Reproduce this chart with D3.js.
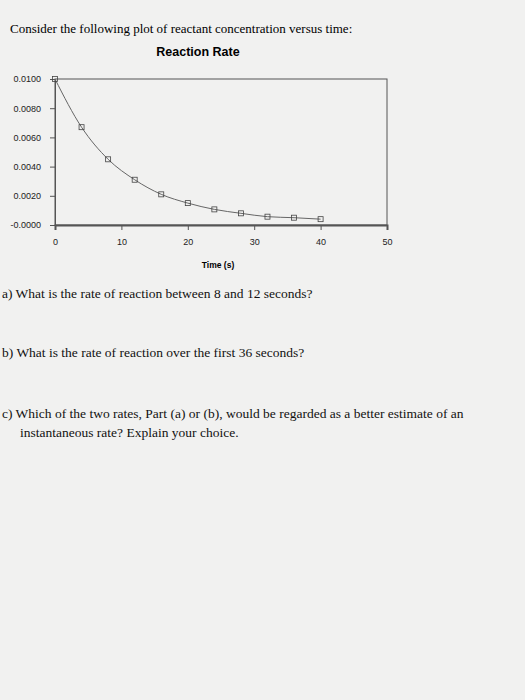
<!DOCTYPE html>
<html><head><meta charset="utf-8">
<script src="https://cdn.jsdelivr.net/npm/d3@7"></script>
<style>body{margin:0;background:#f1f1f0}</style></head>
<body><svg></svg>
<script>
const times = [0, 4, 8, 12, 16, 20, 24, 28, 32, 36, 40];
const conc = [0.0100, 0.0067, 0.0045, 0.0031, 0.0021, 0.0015, 0.00107, 0.0008, 0.00057, 0.0005, 0.0004];
const yTicks = [0, 0.002, 0.004, 0.006, 0.008, 0.01];
const xTicks = [0, 10, 20, 30, 40, 50];

const width = 525, height = 700;
const svg = d3.select('svg').attr('width', width).attr('height', height);

const margin = {top: 79, right: 138, bottom: 475, left: 55};
const x = d3.scaleLinear().domain([0, 50]).range([margin.left, width - margin.right]);
const y = d3.scaleLinear().domain([0, 0.01]).range([height - margin.bottom, margin.top]);

const serif = 'Liberation Serif, Times New Roman, serif';
const sans = 'Liberation Sans, Arial, sans-serif';

svg.append('text').attr('x', 10).attr('y', 33).attr('font-family', serif).attr('font-size', 13)
  .text('Consider the following plot of reactant concentration versus time:');
svg.append('text').attr('x', 198).attr('y', 56).attr('text-anchor', 'middle')
  .attr('font-family', sans).attr('font-size', 12.5).attr('font-weight', 'bold').text('Reaction Rate');

svg.append('rect').attr('x', x(0)).attr('y', y(0.01)).attr('width', x(50) - x(0)).attr('height', y(0) - y(0.01))
  .attr('fill', 'none').attr('stroke', '#555').attr('stroke-width', 1);

const yAxis = svg.append('g').attr('transform', `translate(${x(0)},0)`)
  .call(d3.axisLeft(y).tickValues(yTicks).tickSize(5).tickPadding(9).tickFormat(d => d === 0 ? '-0.0000' : d3.format('.4f')(d)));
const xAxis = svg.append('g').attr('transform', `translate(0,${y(0)})`)
  .call(d3.axisBottom(x).tickValues(xTicks).tickSize(5).tickFormat(d3.format('d')));
[xAxis, yAxis].forEach(a => {
  a.selectAll('path,line').attr('stroke', '#555');
  a.selectAll('text').attr('font-family', sans).attr('font-size', 9).attr('fill', '#222');
});
xAxis.select('path').attr('stroke-width', 2);
xAxis.selectAll('text').attr('dy', '1.3em');

svg.append('text').attr('x', 218).attr('y', 268).attr('text-anchor', 'middle')
  .attr('font-family', sans).attr('font-size', 8.5).attr('font-weight', 'bold').text('Time (s)');

const pts = times.map((t, i) => [t, conc[i]]);
svg.append('path').datum(pts).attr('fill', 'none').attr('stroke', '#666').attr('stroke-width', 1)
  .attr('d', d3.line().x(d => x(d[0])).y(d => y(d[1])).curve(d3.curveMonotoneX));
svg.selectAll('rect.pt').data(pts).join('rect').attr('class', 'pt')
  .attr('x', d => x(d[0]) - 2.5).attr('y', d => y(d[1]) - 2.5).attr('width', 5).attr('height', 5)
  .attr('fill', 'none').attr('stroke', '#444').attr('stroke-width', 0.8);

const lines = [
  [2, 298, 'a) What is the rate of reaction between 8 and 12 seconds?'],
  [2, 357, 'b) What is the rate of reaction over the first 36 seconds?'],
  [2, 418, 'c) Which of the two rates, Part (a) or (b), would be regarded as a better estimate of an'],
  [20, 437, 'instantaneous rate? Explain your choice.']
];
svg.selectAll('text.q').data(lines).join('text').attr('class', 'q')
  .attr('x', d => d[0]).attr('y', d => d[1]).attr('font-family', serif).attr('font-size', 13.5)
  .attr('fill', '#111').text(d => d[2]);
</script></body></html>
